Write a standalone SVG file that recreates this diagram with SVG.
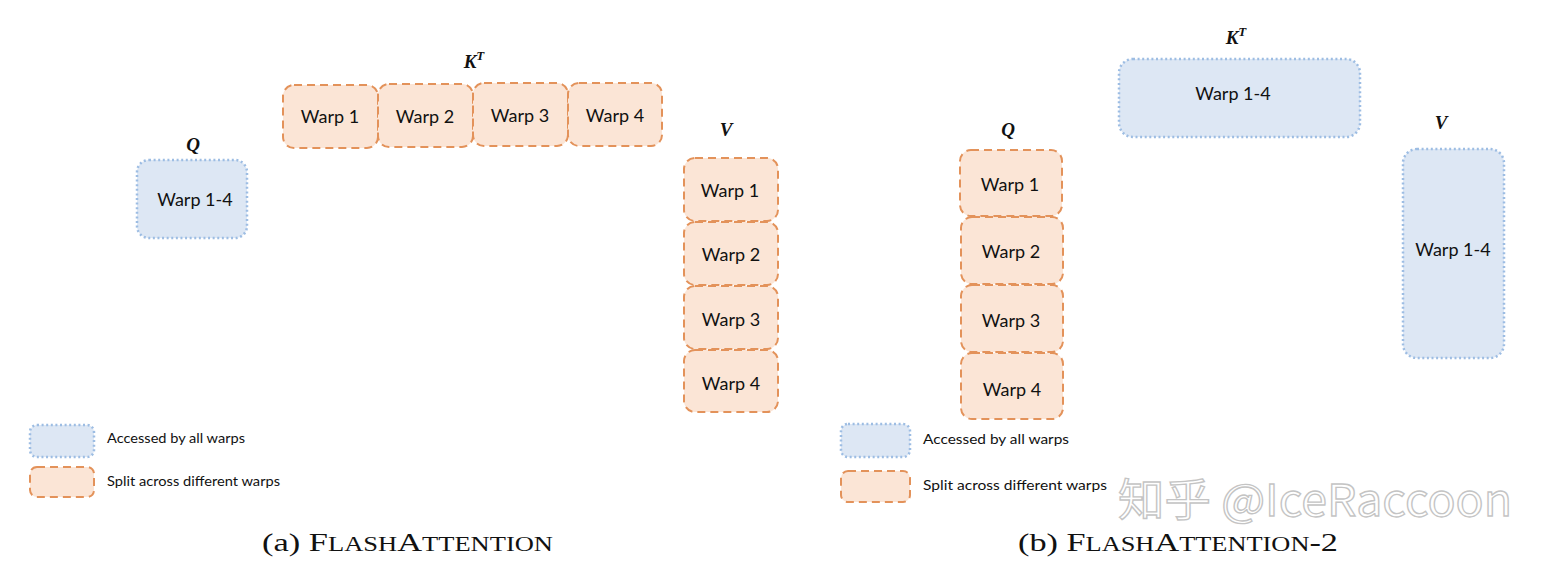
<svg xmlns="http://www.w3.org/2000/svg" width="1554" height="566" viewBox="0 0 1554 566">
<style>
.bg{fill:#ffffff}
.sp{fill:#fbe5d6;stroke:#e3925a;stroke-width:2;stroke-dasharray:8 5}
.al{fill:#dde7f4;stroke:#9dbde3;stroke-width:2.5;stroke-dasharray:2 2.6}
.t{font-family:Lato,"Open Sans",sans-serif;font-size:18px;fill:#111;text-anchor:middle;dominant-baseline:central}
.lg{font-family:Lato,"Open Sans",sans-serif;font-size:14px;fill:#111;dominant-baseline:central}
.m{font-family:"Liberation Serif","DejaVu Serif",serif;font-weight:bold;font-style:italic;font-size:19px;fill:#111;text-anchor:middle}
.cap{font-family:"Liberation Serif","DejaVu Serif",serif;font-size:26px;fill:#111}
.wm{font-family:"Noto Sans CJK SC","Noto Sans",sans-serif;font-size:44px;fill:#ffffff;fill-opacity:0.5;stroke:#c4c4c4;stroke-width:1.3}
</style>
<rect class="bg" x="0" y="0" width="1554" height="566"/>
<g id="connectors"></g>

<!-- (a) FlashAttention -->
<g id="a-Q">
  <text class="m" x="193" y="151">Q</text>
  <rect class="al" x="137" y="160" width="110" height="78" rx="12"/>
  <text class="t" x="195" y="199">Warp 1-4</text>
</g>
<g id="a-K">
  <text class="m" x="474" y="68">K<tspan font-size="13" dy="-8">T</tspan></text>
  <rect class="sp" x="283" y="85" width="95" height="63" rx="11"/>
  <text class="t" x="330" y="116">Warp 1</text>
  <rect class="sp" x="378" y="84" width="95" height="63" rx="11"/>
  <text class="t" x="425" y="116">Warp 2</text>
  <rect class="sp" x="473" y="83" width="95" height="63" rx="11"/>
  <text class="t" x="520" y="115">Warp 3</text>
  <rect class="sp" x="568" y="83" width="94" height="63" rx="11"/>
  <text class="t" x="615" y="115">Warp 4</text>
</g>
<g id="a-V">
  <text class="m" x="726" y="136">V</text>
  <rect class="sp" x="684" y="158" width="94" height="63" rx="11"/>
  <text class="t" x="730" y="190">Warp 1</text>
  <rect class="sp" x="684" y="222" width="94" height="63" rx="11"/>
  <text class="t" x="731" y="254">Warp 2</text>
  <rect class="sp" x="684" y="286" width="94" height="63" rx="11"/>
  <text class="t" x="731" y="319">Warp 3</text>
  <rect class="sp" x="684" y="350" width="94" height="62" rx="11"/>
  <text class="t" x="731" y="383">Warp 4</text>
</g>
<g id="a-legend">
  <rect class="al" x="30" y="425" width="64" height="32" rx="7"/>
  <text class="lg" x="107" y="437" textLength="138" lengthAdjust="spacingAndGlyphs">Accessed by all warps</text>
  <rect class="sp" x="30" y="467" width="64" height="30" rx="7"/>
  <text class="lg" x="107" y="480" textLength="173" lengthAdjust="spacingAndGlyphs">Split across different warps</text>
</g>
<g id="a-caption">
  <text class="cap" x="262" y="551" textLength="291" lengthAdjust="spacingAndGlyphs">(a) F<tspan font-size="20">LASH</tspan>A<tspan font-size="20">TTENTION</tspan></text>
</g>

<!-- (b) FlashAttention-2 -->
<g id="b-K">
  <text class="m" x="1236" y="44">K<tspan font-size="13" dy="-8">T</tspan></text>
  <rect class="al" x="1119" y="59" width="241" height="78" rx="14"/>
  <text class="t" x="1233" y="93">Warp 1-4</text>
</g>
<g id="b-Q">
  <text class="m" x="1008" y="136">Q</text>
  <rect class="sp" x="960" y="150" width="102" height="66" rx="11"/>
  <text class="t" x="1010" y="184">Warp 1</text>
  <rect class="sp" x="961" y="217" width="102" height="67" rx="11"/>
  <text class="t" x="1011" y="251">Warp 2</text>
  <rect class="sp" x="961" y="285" width="102" height="67" rx="11"/>
  <text class="t" x="1011" y="320">Warp 3</text>
  <rect class="sp" x="961" y="353" width="102" height="66" rx="11"/>
  <text class="t" x="1012" y="389">Warp 4</text>
</g>
<g id="b-V">
  <text class="m" x="1441" y="129">V</text>
  <rect class="al" x="1403" y="149" width="101" height="209" rx="14"/>
  <text class="t" x="1453" y="249">Warp 1-4</text>
</g>
<g id="b-legend">
  <rect class="al" x="841" y="424" width="69" height="33" rx="7"/>
  <text class="lg" x="923" y="438" textLength="146" lengthAdjust="spacingAndGlyphs">Accessed by all warps</text>
  <rect class="sp" x="841" y="471" width="69" height="31" rx="7"/>
  <text class="lg" x="923" y="484" textLength="184" lengthAdjust="spacingAndGlyphs">Split across different warps</text>
</g>
<g id="watermark">
  <text class="wm" x="1118" y="516" textLength="394" lengthAdjust="spacingAndGlyphs">知乎 @IceRaccoon</text>
</g>
<g id="b-caption">
  <text class="cap" x="1018" y="551" textLength="320" lengthAdjust="spacingAndGlyphs">(b) F<tspan font-size="20">LASH</tspan>A<tspan font-size="20">TTENTION</tspan>-2</text>
</g>
</svg>
